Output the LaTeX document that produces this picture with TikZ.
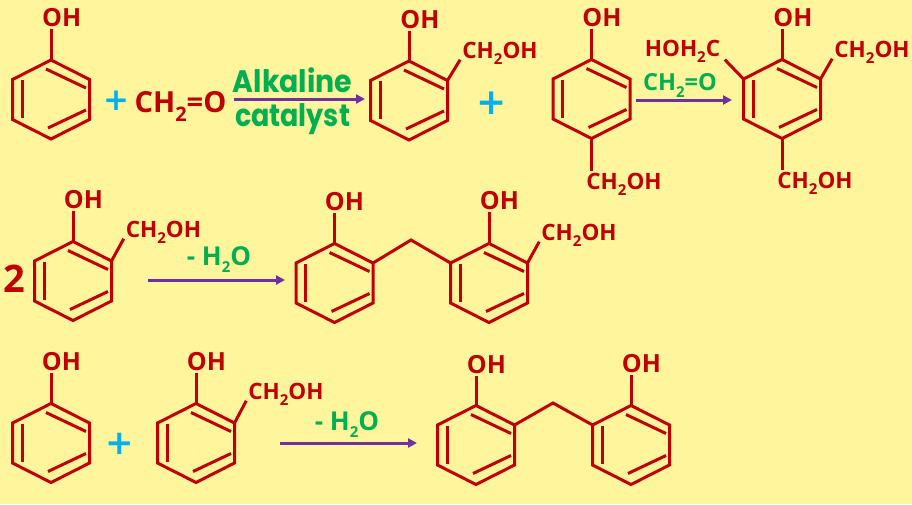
\documentclass[tikz,border=0pt]{standalone}
\usepackage{fontspec}
\setmainfont{Open Sans}
\newfontfamily\catfont{Poppins}
\newfontfamily\plusfont{DejaVu Sans}
\usepackage{xcolor}
\usetikzlibrary{arrows.meta}
\definecolor{bgyellow}{HTML}{FFF59D}
\definecolor{chemred}{HTML}{C00000}
\definecolor{reagentgreen}{HTML}{00B050}
\definecolor{arrowpurple}{HTML}{7030A0}
\definecolor{plusblue}{HTML}{00B0F0}
\newcommand{\lowtwo}{\raisebox{-0.3em}{\fontsize{15}{15}\selectfont 2}}
\newcommand{\phring}[3]{
  \begin{scope}[shift={(#2,#3)}]
    \coordinate (#1t) at (0,-39.5);
    \coordinate (#1ur) at (38.5,-20);
    \coordinate (#1lr) at (38.5,20);
    \coordinate (#1b) at (0,39.5);
    \coordinate (#1ll) at (-38.5,20);
    \coordinate (#1ul) at (-38.5,-20);
    \draw[bond] (#1t) -- (#1ur) -- (#1lr) -- (#1b) -- (#1ll) -- (#1ul) -- cycle;
    \draw[bond] (-5,-30.5) -- (35,-11.5);
    \draw[bond] (-3,28.5) -- (35,10.5);
    \draw[bond] (-29,-19.5) -- (-29,18.5);
  \end{scope}
}
\tikzset{
  bond/.style={draw=chemred, line width=3pt},
  chem/.style={text=chemred, font=\fontsize{25}{25}\selectfont\bfseries, inner sep=1.5pt},
  chemsub/.style={text=chemred, font=\fontsize{22.5}{22.5}\selectfont\bfseries, inner sep=1pt, anchor=base},
  reagent/.style={text=reagentgreen, font=\fontsize{#1}{#1}\selectfont\bfseries, inner sep=0pt, anchor=base},
  catalyst/.style={text=reagentgreen, font=\fontsize{31}{31}\selectfont\catfont\bfseries, inner sep=0pt},
  plussign/.style={text=plusblue, font=\fontsize{#1}{#1}\selectfont\plusfont\bfseries, inner sep=0pt},
  rxn/.style={draw=arrowpurple, line width=3pt, -{Triangle[length=9pt,width=9pt]}}
}
\begin{document}
\begin{tikzpicture}[x=1pt,y=-1pt]
  \useasboundingbox (0,0) rectangle (912,504);
  \fill[bgyellow] (0,0) rectangle (912,504);

  % first row
  \phring{a}{51}{99.5}
  \node[chem] (oha) at (61.7,18) {OH};
  \draw[bond] (at) -- (at |- oha.south);
  \node[plussign=31] (plusa) at (116,101) {+};
  \node[chem,font=\fontsize{29}{29}\selectfont\bfseries,anchor=base] (ch2o) at (180.5,112) {CH\raisebox{-0.32em}{\fontsize{20}{20}\selectfont 2}=O};
  \node[catalyst,xscale=.915] (alk) at (292.5,80) {Alkaline};
  \node[catalyst,xscale=.87] (cat) at (292.5,119) {catalyst};
  \coordinate (arrowas) at (234,99);
  \coordinate (arrowae) at (365,99);
  \draw[rxn] (arrowas) -- (arrowae);

  \phring{b}{409}{100.5}
  \node[chem] (ohb) at (420,20) {OH};
  \draw[bond] (bt) -- (bt |- ohb.south);
  \node[chemsub] (cha) at (500,58) {CH\lowtwo OH};
  \draw[bond,shorten >=2pt] (bur) -- (cha.base west);
  \node[plussign=36] (plusb) at (492,103) {+};

  \phring{c}{591.5}{99}
  \node[chem] (ohc) at (602,18) {OH};
  \draw[bond] (ct) -- (ct |- ohc.south);
  \node[chemsub] (chb) at (624,189) {CH\lowtwo OH};
  \draw[bond] (cb) -- (cb |- chb.north);
  \node[reagent=23.5] (ch2ob) at (680,90) {CH\lowtwo=O};
  \coordinate (arrowbs) at (636,100);
  \coordinate (arrowbe) at (732,100);
  \draw[rxn] (arrowbs) -- (arrowbe);

  \phring{d}{782}{99}
  \node[chem] (ohd) at (793,18) {OH};
  \draw[bond] (dt) -- (dt |- ohd.south);
  \node[chemsub] (chc) at (682.5,56) {HOH\lowtwo C};
  \draw[bond,shorten >=5pt] (dul) -- (chc.base east);
  \node[chemsub] (chd) at (872,57) {CH\lowtwo OH};
  \draw[bond,shorten >=2pt] (dur) -- (chd.base west);
  \node[chemsub] (che) at (815,188) {CH\lowtwo OH};
  \draw[bond] (db) -- (db |- che.north);

  % second row
  \node[text=chemred,font=\fontsize{38}{38}\selectfont\bfseries,inner sep=0pt] (two) at (14,279) {2};
  \phring{e}{73}{281}
  \node[chem] (ohe) at (83.5,200) {OH};
  \draw[bond] (et) -- (et |- ohe.south);
  \node[chemsub] (chf) at (163.5,237) {CH\lowtwo OH};
  \draw[bond,shorten >=2pt] (eur) -- (chf.base west);
  \node[reagent=26] (wata) at (219,265) {- H\lowtwo O};
  \coordinate (arrowcs) at (148,280);
  \coordinate (arrowce) at (285,280);
  \draw[rxn] (arrowcs) -- (arrowce);

  \phring{f}{334.5}{283}
  \node[chem] (ohf) at (344.5,202) {OH};
  \draw[bond] (ft) -- (ft |- ohf.south);
  \phring{g}{489}{283}
  \node[chem] (ohg) at (499.5,201) {OH};
  \draw[bond] (gt) -- (gt |- ohg.south);
  \coordinate (bridgea) at (411,240);
  \draw[bond] (fur) -- (bridgea) -- (gul);
  \node[chemsub] (chg) at (579,240) {CH\lowtwo OH};
  \draw[bond,shorten >=2pt] (gur) -- (chg.base west);

  % third row
  \phring{h}{51}{443}
  \node[chem] (ohh) at (61.5,362) {OH};
  \draw[bond] (ht) -- (ht |- ohh.south);
  \node[plussign=34] (plusc) at (120,444) {+};
  \phring{i}{196}{443}
  \node[chem] (ohi) at (206.5,362) {OH};
  \draw[bond] (it) -- (it |- ohi.south);
  \node[chemsub] (chh) at (286,399) {CH\lowtwo OH};
  \draw[bond,shorten >=2pt] (iur) -- (chh.base west);
  \node[reagent=26] (watb) at (347,430) {- H\lowtwo O};
  \coordinate (arrowds) at (280,443);
  \coordinate (arrowde) at (417,443);
  \draw[rxn] (arrowds) -- (arrowde);

  \phring{j}{476}{445}
  \node[chem] (ohj) at (486.5,365) {OH};
  \draw[bond] (jt) -- (jt |- ohj.south);
  \phring{k}{631}{445}
  \node[chem] (ohk) at (641.5,364) {OH};
  \draw[bond] (kt) -- (kt |- ohk.south);
  \coordinate (bridgeb) at (553,403);
  \draw[bond] (jur) -- (bridgeb) -- (kul);
\end{tikzpicture}
\end{document}
